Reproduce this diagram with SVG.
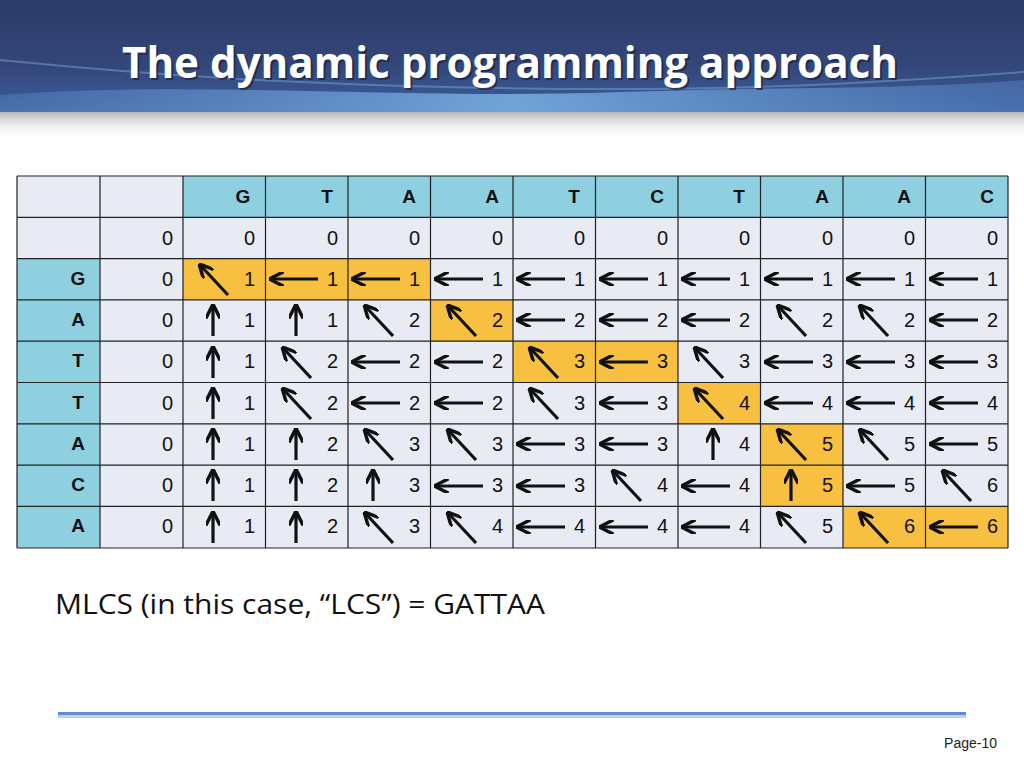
<svg xmlns="http://www.w3.org/2000/svg" width="1024" height="768" viewBox="0 0 1024 768">
<defs>
<linearGradient id="bg" x1="0" y1="0" x2="0" y2="1"><stop offset="0" stop-color="#2c3a68"/><stop offset="0.6" stop-color="#34477a"/><stop offset="1" stop-color="#3b5fa0"/></linearGradient>
<linearGradient id="sh" x1="0" y1="0" x2="0" y2="1"><stop offset="0" stop-color="#888" stop-opacity="0.7"/><stop offset="1" stop-color="#fff" stop-opacity="0"/></linearGradient>
<linearGradient id="wave" x1="0" y1="0" x2="1" y2="0"><stop offset="0" stop-color="#6a9ad0" stop-opacity="0.3"/><stop offset="0.5" stop-color="#7fb6e8" stop-opacity="0.8"/><stop offset="1" stop-color="#5a8cc8" stop-opacity="0.4"/></linearGradient>
<marker id="ah" viewBox="0 0 10 10" refX="8" refY="5" markerWidth="4.5" markerHeight="4.5" orient="auto"><path d="M0,0 L10,5 L0,10" fill="none" stroke="#111" stroke-width="2.4"/></marker>
</defs>
<style>
.g{stroke:#222;stroke-width:1.2}
.n{font-family:"Liberation Sans",Arial,sans-serif;font-size:20px;fill:#111;text-anchor:end}
.h{font-family:"Liberation Sans",Arial,sans-serif;font-size:19px;font-weight:bold;fill:#111;text-anchor:middle}
.a{stroke:#111;stroke-width:3.2;fill:none;marker-end:url(#ah)}
</style>
<rect width="1024" height="768" fill="#fff"/>
<rect x="0" y="110" width="1024" height="30" fill="url(#sh)"/>
<rect x="0" y="0" width="1024" height="112" fill="url(#bg)"/>
<path d="M0,95 C200,80 400,100 620,92 C800,86 900,90 1024,80 L1024,112 L0,112 Z" fill="url(#wave)"/>
<path d="M0,60 C150,75 300,85 500,88 C700,92 850,85 1024,72" stroke="#8fb8e0" stroke-opacity="0.4" fill="none" stroke-width="2"/>
<text x="510" y="78" font-family="'Open Sans',sans-serif" font-size="43" font-weight="bold" fill="#1a2240" text-anchor="middle" opacity="0.7" transform="translate(2,2)" textLength="776" lengthAdjust="spacingAndGlyphs">The dynamic programming approach</text>
<text x="510" y="78" font-family="'Open Sans',sans-serif" font-size="43" font-weight="bold" fill="#fff" text-anchor="middle" textLength="776" lengthAdjust="spacingAndGlyphs">The dynamic programming approach</text>
<g id="table">
<rect x="17" y="176" width="991" height="372" fill="#e8eaf4"/>
<rect x="183" y="176" width="825" height="41.3" fill="#8ecfe0"/>
<rect x="17" y="258.6" width="83" height="289.4" fill="#8ecfe0"/>
<g id="hl" fill="#f8c040">
<rect x="183" y="258.6" width="247.5" height="41.3"/>
<rect x="430.5" y="299.9" width="82.5" height="41.3"/>
<rect x="513" y="341.2" width="165" height="41.3"/>
<rect x="678" y="382.5" width="82.5" height="41.3"/>
<rect x="760.5" y="423.8" width="82.5" height="41.3"/>
<rect x="760.5" y="465.1" width="82.5" height="41.3"/>
<rect x="843" y="506.4" width="165" height="41.6"/>
</g>
<g id="gridlines" class="g">
<path d="M17,176V548M100,176V548M183,176V548M265.5,176V548M348,176V548M430.5,176V548M513,176V548M595.5,176V548M678,176V548M760.5,176V548M843,176V548M925.5,176V548M1008,176V548"/>
<path d="M17,176H1008M17,217.3H1008M17,258.6H1008M17,299.9H1008M17,341.2H1008M17,382.5H1008M17,423.8H1008M17,465.1H1008M17,506.4H1008M17,548H1008"/>
</g>
<g id="headers">
<text class="h" x="243" y="203">G</text><text class="h" x="327" y="203">T</text><text class="h" x="409" y="203">A</text><text class="h" x="492" y="203">A</text><text class="h" x="574" y="203">T</text><text class="h" x="657" y="203">C</text><text class="h" x="739" y="203">T</text><text class="h" x="822" y="203">A</text><text class="h" x="904" y="203">A</text><text class="h" x="987" y="203">C</text>
<text class="h" x="78" y="285">G</text><text class="h" x="78" y="326">A</text><text class="h" x="78" y="367">T</text><text class="h" x="78" y="409">T</text><text class="h" x="78" y="450">A</text><text class="h" x="78" y="491">C</text><text class="h" x="78" y="532">A</text>
</g>
<g id="zeros">
<text class="n" x="173" y="245">0</text><text class="n" x="255" y="245">0</text><text class="n" x="338" y="245">0</text><text class="n" x="420" y="245">0</text><text class="n" x="503" y="245">0</text><text class="n" x="585" y="245">0</text><text class="n" x="668" y="245">0</text><text class="n" x="750" y="245">0</text><text class="n" x="833" y="245">0</text><text class="n" x="915" y="245">0</text><text class="n" x="998" y="245">0</text>
<text class="n" x="173" y="286">0</text><text class="n" x="173" y="327">0</text><text class="n" x="173" y="368">0</text><text class="n" x="173" y="410">0</text><text class="n" x="173" y="451">0</text><text class="n" x="173" y="492">0</text><text class="n" x="173" y="533">0</text>
</g>
<g id="cells">
<text class="n" x="255" y="286">1</text><text class="n" x="338" y="286">1</text><text class="n" x="420" y="286">1</text><text class="n" x="503" y="286">1</text><text class="n" x="585" y="286">1</text><text class="n" x="668" y="286">1</text><text class="n" x="750" y="286">1</text><text class="n" x="833" y="286">1</text><text class="n" x="915" y="286">1</text><text class="n" x="998" y="286">1</text>
<text class="n" x="255" y="327">1</text><text class="n" x="338" y="327">1</text><text class="n" x="420" y="327">2</text><text class="n" x="503" y="327">2</text><text class="n" x="585" y="327">2</text><text class="n" x="668" y="327">2</text><text class="n" x="750" y="327">2</text><text class="n" x="833" y="327">2</text><text class="n" x="915" y="327">2</text><text class="n" x="998" y="327">2</text>
<text class="n" x="255" y="368">1</text><text class="n" x="338" y="368">2</text><text class="n" x="420" y="368">2</text><text class="n" x="503" y="368">2</text><text class="n" x="585" y="368">3</text><text class="n" x="668" y="368">3</text><text class="n" x="750" y="368">3</text><text class="n" x="833" y="368">3</text><text class="n" x="915" y="368">3</text><text class="n" x="998" y="368">3</text>
<text class="n" x="255" y="410">1</text><text class="n" x="338" y="410">2</text><text class="n" x="420" y="410">2</text><text class="n" x="503" y="410">2</text><text class="n" x="585" y="410">3</text><text class="n" x="668" y="410">3</text><text class="n" x="750" y="410">4</text><text class="n" x="833" y="410">4</text><text class="n" x="915" y="410">4</text><text class="n" x="998" y="410">4</text>
<text class="n" x="255" y="451">1</text><text class="n" x="338" y="451">2</text><text class="n" x="420" y="451">3</text><text class="n" x="503" y="451">3</text><text class="n" x="585" y="451">3</text><text class="n" x="668" y="451">3</text><text class="n" x="750" y="451">4</text><text class="n" x="833" y="451">5</text><text class="n" x="915" y="451">5</text><text class="n" x="998" y="451">5</text>
<text class="n" x="255" y="492">1</text><text class="n" x="338" y="492">2</text><text class="n" x="420" y="492">3</text><text class="n" x="503" y="492">3</text><text class="n" x="585" y="492">3</text><text class="n" x="668" y="492">4</text><text class="n" x="750" y="492">4</text><text class="n" x="833" y="492">5</text><text class="n" x="915" y="492">5</text><text class="n" x="998" y="492">6</text>
<text class="n" x="255" y="533">1</text><text class="n" x="338" y="533">2</text><text class="n" x="420" y="533">3</text><text class="n" x="503" y="533">4</text><text class="n" x="585" y="533">4</text><text class="n" x="668" y="533">4</text><text class="n" x="750" y="533">4</text><text class="n" x="833" y="533">5</text><text class="n" x="915" y="533">6</text><text class="n" x="998" y="533">6</text>
</g>
</g>
<g id="connectors">
<path class="a" d="M228,295 L201,266"/>
<path class="a" d="M318,279 H272"/><path class="a" d="M400,279 H354"/><path class="a" d="M483,279 H437"/><path class="a" d="M565,279 H519"/><path class="a" d="M648,279 H602"/><path class="a" d="M730,279 H684"/><path class="a" d="M813,279 H767"/><path class="a" d="M895,279 H849"/><path class="a" d="M978,279 H932"/>
<path class="a" d="M213,336 V307"/><path class="a" d="M296,336 V307"/>
<path class="a" d="M393,336 L366,307"/><path class="a" d="M476,336 L449,307"/>
<path class="a" d="M565,320 H519"/><path class="a" d="M648,320 H602"/><path class="a" d="M730,320 H684"/>
<path class="a" d="M806,336 L779,307"/><path class="a" d="M888,336 L861,307"/>
<path class="a" d="M978,320 H932"/>
<path class="a" d="M213,378 V349"/><path class="a" d="M311,378 L284,349"/>
<path class="a" d="M400,362 H354"/><path class="a" d="M483,362 H437"/>
<path class="a" d="M558,378 L531,349"/><path class="a" d="M648,362 H602"/><path class="a" d="M723,378 L696,349"/>
<path class="a" d="M813,362 H767"/><path class="a" d="M895,362 H849"/><path class="a" d="M978,362 H932"/>
<path class="a" d="M213,419 V390"/><path class="a" d="M311,419 L284,390"/>
<path class="a" d="M400,403 H354"/><path class="a" d="M483,403 H437"/>
<path class="a" d="M558,419 L531,390"/><path class="a" d="M648,403 H602"/><path class="a" d="M723,419 L696,390"/>
<path class="a" d="M813,403 H767"/><path class="a" d="M895,403 H849"/><path class="a" d="M978,403 H932"/>
<path class="a" d="M213,460 V431"/><path class="a" d="M296,460 V431"/>
<path class="a" d="M393,460 L366,431"/><path class="a" d="M476,460 L449,431"/>
<path class="a" d="M565,444 H519"/><path class="a" d="M648,444 H602"/>
<path class="a" d="M713,460 V431"/><path class="a" d="M806,460 L779,431"/><path class="a" d="M888,460 L861,431"/>
<path class="a" d="M978,444 H932"/>
<path class="a" d="M213,501 V472"/><path class="a" d="M296,501 V472"/><path class="a" d="M373,501 V472"/>
<path class="a" d="M483,486 H437"/><path class="a" d="M565,486 H519"/>
<path class="a" d="M641,501 L614,472"/><path class="a" d="M730,486 H684"/>
<path class="a" d="M791,501 V472"/><path class="a" d="M895,486 H849"/>
<path class="a" d="M971,501 L944,472"/>
<path class="a" d="M213,543 V514"/><path class="a" d="M296,543 V514"/>
<path class="a" d="M393,543 L366,514"/><path class="a" d="M476,543 L449,514"/>
<path class="a" d="M565,527 H519"/><path class="a" d="M648,527 H602"/><path class="a" d="M730,527 H684"/>
<path class="a" d="M806,543 L779,514"/><path class="a" d="M888,543 L861,514"/>
<path class="a" d="M978,527 H932"/>
</g>
<text x="55" y="614" font-family="'Open Sans',sans-serif" font-size="28" fill="#111" textLength="490" lengthAdjust="spacingAndGlyphs">MLCS (in this case, “LCS”) = GATTAA</text>
<rect x="58" y="715" width="908" height="3" fill="#ccc"/>
<rect x="58" y="712" width="908" height="3" fill="#5b8fcf"/>
<text x="997" y="748" font-family="'Liberation Sans',Arial,sans-serif" font-size="14" fill="#222" text-anchor="end">Page-10</text>
</svg>
